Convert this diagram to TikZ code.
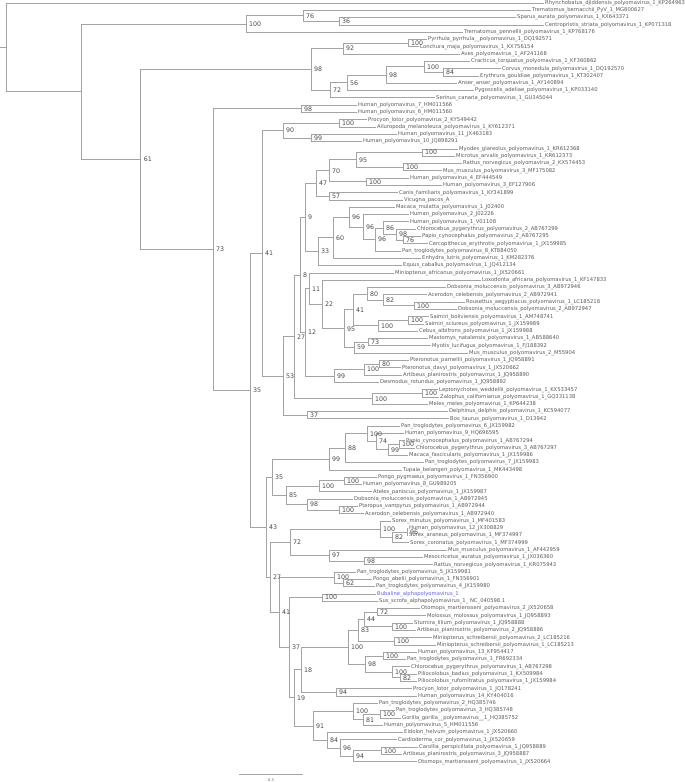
\documentclass[tikz,border=0pt]{standalone}
\usepackage{fontspec}
\setmainfont{DejaVu Sans}
\usetikzlibrary{calc}
\definecolor{brc}{HTML}{A4A4A4}
\definecolor{txc}{HTML}{5A5A5A}
\definecolor{bsc}{HTML}{4A4A4A}
\definecolor{bub}{HTML}{5F5FF5}
\tikzset{
 br/.style={draw=brc, line width=0.75pt},
 leaf/.style={anchor=west, inner sep=1pt, font=\fontsize{5.25}{6}\selectfont, text=txc},
 bsl/.style={anchor=west, inner sep=0pt, xshift=3pt, font=\fontsize{6.3}{7}\selectfont, text=bsc},
 sbl/.style={inner sep=0pt, font=\fontsize{3.6}{4}\selectfont, text=txc},
}
\newcommand\tleaf[5][]{\node[leaf,#1] (#2) at ({#4-1},{3+(#3-1)*7.295}) {#5};}
\newcommand\tjoin[4]{%
 \path let \p1=(#3), \p2=(#4) in coordinate (#1) at ({#2pt},{0.5*(\y1+\y2)});
 \draw[br] (#1) |- (#3);
 \draw[br] (#1) |- (#4);}
\newcommand\tclade[5]{%
 \tjoin{#1}{#2}{#3}{#4}%
 \node[bsl] (#1-l) at (#1) {#5};}
\begin{document}
\begin{tikzpicture}[x=1pt,y=-1pt]
\useasboundingbox (0,0) rectangle (685,782);
\tleaf{L1}{1}{545}{Rhynchobatus\_djiddensis\_polyomavirus\_1\_KP264963}
\tleaf{L2}{2}{532}{Trematomus\_bernacchii\_PyV\_1\_MG800627}
\tleaf{L3}{3}{517}{Sparus\_aurata\_polyomavirus\_1\_KX643371}
\tleaf{L4}{4}{545}{Centropristis\_striata\_polyomavirus\_1\_KP071318}
\tleaf{L5}{5}{464}{Trematomus\_pennellii\_polyomavirus\_1\_KP768176}
\tleaf{L6}{6}{428}{Pyrrhula\_pyrrhula\_\_polyomavirus\_1\_DQ192571}
\tleaf{L7}{7}{420}{Lonchura\_maja\_polyomavirus\_1\_KX756154}
\tleaf{L8}{8}{461}{Aves\_polyomavirus\_1\_AF241168}
\tleaf{L9}{9}{471}{Cracticus\_torquatus\_polyomavirus\_1\_KF360862}
\tleaf{L10}{10}{502}{Corvus\_monedula\_polyomavirus\_1\_DQ192570}
\tleaf{L11}{11}{480}{Erythrura\_gouldiae\_polyomavirus\_1\_KT302407}
\tleaf{L12}{12}{458}{Anser\_anser\_polyomavirus\_1\_AY140894}
\tleaf{L13}{13}{475}{Pygoscelis\_adeliae\_polyomavirus\_1\_KP033140}
\tleaf{L14}{14}{436}{Serinus\_canaria\_polyomavirus\_1\_GU345044}
\tleaf{L15}{15}{358}{Human\_polyomavirus\_7\_HM011566}
\tleaf{L16}{16}{358}{Human\_polyomavirus\_6\_HM011560}
\tleaf{L17}{17}{368}{Procyon\_lotor\_polyomavirus\_2\_KY549442}
\tleaf{L18}{18}{377}{Ailuropoda\_melanoleuca\_polyomavirus\_1\_KY612371}
\tleaf{L19}{19}{398}{Human\_polyomavirus\_11\_JX463183}
\tleaf{L20}{20}{363}{Human\_polyomavirus\_10\_JQ898291}
\tleaf{L21}{21}{459}{Myodes\_glareolus\_polyomavirus\_1\_KR612368}
\tleaf{L22}{22}{456}{Microtus\_arvalis\_polyomavirus\_1\_KR612373}
\tleaf{L23}{23}{463}{Rattus\_norvegicus\_polyomavirus\_2\_KX574453}
\tleaf{L24}{24}{443}{Mus\_musculus\_polyomavirus\_3\_MF175082}
\tleaf{L25}{25}{410}{Human\_polyomavirus\_4\_EF444549}
\tleaf{L26}{26}{443}{Human\_polyomavirus\_3\_EF127906}
\tleaf{L27}{27}{399}{Canis\_familiaris\_polyomavirus\_1\_KY341899}
\tleaf{L28}{28}{404}{Vicugna\_pacos\_A}
\tleaf{L29}{29}{396}{Macaca\_mulatta\_polyomavirus\_1\_J02400}
\tleaf{L30}{30}{410}{Human\_polyomavirus\_2\_J02226}
\tleaf{L31}{31}{410}{Human\_polyomavirus\_1\_V01108}
\tleaf{L32}{32}{417}{Chlorocebus\_pygerythrus\_polyomavirus\_2\_AB767299}
\tleaf{L33}{33}{422}{Papio\_cynocephalus\_polyomavirus\_2\_AB767295}
\tleaf{L34}{34}{429}{Cercopithecus\_erythrotis\_polyomavirus\_1\_JX159985}
\tleaf{L35}{35}{402}{Pan\_troglodytes\_polyomavirus\_8\_KT884050}
\tleaf{L36}{36}{422}{Enhydra\_lutris\_polyomavirus\_1\_KM282376}
\tleaf{L37}{37}{403}{Equus\_caballus\_polyomavirus\_1\_JQ412134}
\tleaf{L38}{38}{395}{Miniopterus\_africanus\_polyomavirus\_1\_JX520661}
\tleaf{L39}{39}{482}{Loxodonta\_africana\_polyomavirus\_1\_KF147833}
\tleaf{L40}{40}{447}{Dobsonia\_moluccensis\_polyomavirus\_3\_AB972946}
\tleaf{L41}{41}{428}{Acerodon\_celebensis\_polyomavirus\_2\_AB972941}
\tleaf{L42}{42}{466}{Rousettus\_aegyptiacus\_polyomavirus\_1\_LC185218}
\tleaf{L43}{43}{458}{Dobsonia\_moluccensis\_polyomavirus\_2\_AB972947}
\tleaf{L44}{44}{430}{Saimiri\_boliviensis\_polyomavirus\_1\_AM748741}
\tleaf{L45}{45}{425}{Saimiri\_sciureus\_polyomavirus\_1\_JX159989}
\tleaf{L46}{46}{419}{Cebus\_albifrons\_polyomavirus\_1\_JX159988}
\tleaf{L47}{47}{429}{Mastomys\_natalensis\_polyomavirus\_1\_AB588640}
\tleaf{L48}{48}{432}{Myotis\_lucifugus\_polyomavirus\_1\_FJ188392}
\tleaf{L49}{49}{469}{Mus\_musculus\_polyomavirus\_2\_M55904}
\tleaf{L50}{50}{410}{Pteronotus\_parnellii\_polyomavirus\_1\_JQ958891}
\tleaf{L51}{51}{402}{Pteronotus\_davyi\_polyomavirus\_1\_JX520662}
\tleaf{L52}{52}{403}{Artibeus\_planirostris\_polyomavirus\_1\_JQ958890}
\tleaf{L53}{53}{380}{Desmodus\_rotundus\_polyomavirus\_1\_JQ958892}
\tleaf{L54}{54}{439}{Leptonychotes\_weddellii\_polyomavirus\_1\_KX533457}
\tleaf{L55}{55}{440}{Zalophus\_californianus\_polyomavirus\_1\_GQ331138}
\tleaf{L56}{56}{429}{Meles\_meles\_polyomavirus\_1\_KP644238}
\tleaf{L57}{57}{449}{Delphinus\_delphis\_polyomavirus\_1\_KC594077}
\tleaf{L58}{58}{450}{Bos\_taurus\_polyomavirus\_1\_D13942}
\tleaf{L59}{59}{401}{Pan\_troglodytes\_polyomavirus\_6\_JX159982}
\tleaf{L60}{60}{405}{Human\_polyomavirus\_9\_HQ696595}
\tleaf{L61}{61}{406}{Papio\_cynocephalus\_polyomavirus\_1\_AB767294}
\tleaf{L62}{62}{416}{Chlorocebus\_pygerythrus\_polyomavirus\_3\_AB767297}
\tleaf{L63}{63}{409}{Macaca\_fascicularis\_polyomavirus\_1\_JX159986}
\tleaf{L64}{64}{425}{Pan\_troglodytes\_polyomavirus\_7\_JX159983}
\tleaf{L65}{65}{403}{Tupaia\_belangeri\_polyomavirus\_1\_MK443498}
\tleaf{L66}{66}{378}{Pongo\_pygmaeus\_polyomavirus\_1\_FN356900}
\tleaf{L67}{67}{363}{Human\_polyomavirus\_8\_GU989205}
\tleaf{L68}{68}{373}{Ateles\_paniscus\_polyomavirus\_1\_JX159987}
\tleaf{L69}{69}{354}{Dobsonia\_moluccensis\_polyomavirus\_1\_AB972945}
\tleaf{L70}{70}{359}{Pteropus\_vampyrus\_polyomavirus\_1\_AB972944}
\tleaf{L71}{71}{365}{Acerodon\_celebensis\_polyomavirus\_1\_AB972940}
\tleaf{L72}{72}{392}{Sorex\_minutus\_polyomavirus\_1\_MF401583}
\tleaf{L73}{73}{409}{Human\_polyomavirus\_12\_JX308829}
\tleaf{L74}{74}{409}{Sorex\_araneus\_polyomavirus\_1\_MF374997}
\tleaf{L75}{75}{410}{Sorex\_coronatus\_polyomavirus\_1\_MF374999}
\tleaf{L76}{76}{448}{Mus\_musculus\_polyomavirus\_1\_AF442959}
\tleaf{L77}{77}{424}{Mesocricetus\_auratus\_polyomavirus\_1\_JX036360}
\tleaf{L78}{78}{434}{Rattus\_norvegicus\_polyomavirus\_1\_KR075943}
\tleaf{L79}{79}{357}{Pan\_troglodytes\_polyomavirus\_5\_JX159981}
\tleaf{L80}{80}{373}{Pongo\_abelii\_polyomavirus\_1\_FN356901}
\tleaf{L81}{81}{376}{Pan\_troglodytes\_polyomavirus\_4\_JX159980}
\tleaf[text=bub]{L82}{82}{377}{Bubaline\_alphapolyomavirus\_1}
\tleaf{L83}{83}{379}{Sus\_scrofa\_alphapolyomavirus\_1\_ NC\_040598.1}
\tleaf{L84}{84}{421}{Otomops\_martiensseni\_polyomavirus\_2\_JX520658}
\tleaf{L85}{85}{427}{Molossus\_molossus\_polyomavirus\_1\_JQ958893}
\tleaf{L86}{86}{414}{Sturnira\_lilium\_polyomavirus\_1\_JQ958888}
\tleaf{L87}{87}{417}{Artibeus\_planirostris\_polyomavirus\_2\_JQ958886}
\tleaf{L88}{88}{433}{Miniopterus\_schreibersii\_polyomavirus\_2\_LC185216}
\tleaf{L89}{89}{437}{Miniopterus\_schreibersii\_polyomavirus\_1\_LC185213}
\tleaf{L90}{90}{418}{Human\_polyomavirus\_13\_KF954417}
\tleaf{L91}{91}{407}{Pan\_troglodytes\_polyomavirus\_1\_FR692334}
\tleaf{L92}{92}{411}{Chlorocebus\_pygerythrus\_polyomavirus\_1\_AB767298}
\tleaf{L93}{93}{418}{Piliocolobus\_badius\_polyomavirus\_1\_KX509984}
\tleaf{L94}{94}{418}{Piliocolobus\_rufomitratus\_polyomavirus\_1\_JX159984}
\tleaf{L95}{95}{413}{Procyon\_lotor\_polyomavirus\_1\_JQ178241}
\tleaf{L96}{96}{418}{Human\_polyomavirus\_14\_KY404016}
\tleaf{L97}{97}{379}{Pan\_troglodytes\_polyomavirus\_2\_HQ385746}
\tleaf{L98}{98}{396}{Pan\_troglodytes\_polyomavirus\_3\_HQ385748}
\tleaf{L99}{99}{402}{Gorilla\_gorilla\_\_polyomavirus\_\_1\_HQ385752}
\tleaf{L100}{100}{384}{Human\_polyomavirus\_5\_HM011556}
\tleaf{L101}{101}{404}{Eidolon\_helvum\_polyomavirus\_1\_JX520660}
\tleaf{L102}{102}{398}{Cardioderma\_cor\_polyomavirus\_1\_JX520659}
\tleaf{L103}{103}{419}{Carollia\_perspicillata\_polyomavirus\_1\_JQ958889}
\tleaf{L104}{104}{403}{Artibeus\_planirostris\_polyomavirus\_3\_JQ958887}
\tleaf{L105}{105}{418}{Otomops\_martiensseni\_polyomavirus\_1\_JX520664}
% internal nodes
\tclade{n36}{339}{L3}{L4}{36}
\tclade{n76}{303}{L2}{n36}{76}
\tclade{n100a}{246}{n76}{L5}{100}
\tclade{n100p}{408}{L6}{L7}{100}
\tclade{n92}{343}{n100p}{L8}{92}
\tclade{n84}{443}{L10}{L11}{84}
\tclade{n100c}{424}{L9}{n84}{100}
\tclade{n98c}{386}{n100c}{L12}{98}
\tclade{n56}{347}{n98c}{L13}{56}
\tclade{n72a}{330}{n56}{L14}{72}
\tclade{n98b}{311}{n92}{n72a}{98}
\tclade{n98h}{301}{L15}{L16}{98}
\tclade{n100pr}{339}{L17}{L18}{100}
\tclade{n99a}{311}{L19}{L20}{99}
\tclade{n90}{283}{n100pr}{n99a}{90}
\tclade{n100mm}{422}{L21}{L22}{100}
\tclade{n100rm}{403}{L23}{L24}{100}
\tclade{n95a}{356}{n100mm}{n100rm}{95}
\tclade{n100hp}{366}{L25}{L26}{100}
\tclade{n70}{329}{n95a}{n100hp}{70}
\tclade{n57}{329}{L27}{L28}{57}
\tclade{n47}{316}{n70}{n57}{47}
\tclade{n76b}{403}{L33}{L34}{76}
\tclade{n98p}{396}{L32}{n76b}{98}
\tclade{n86}{383}{L31}{n98p}{86}
\tclade{n96c}{375}{n86}{L35}{96}
\tclade{n96b}{363}{L30}{n96c}{96}
\tclade{n96a}{349}{L29}{n96b}{96}
\tclade{n60}{333}{n96a}{L36}{60}
\tclade{n33}{318}{n60}{L37}{33}
\tclade{n9}{305}{n47}{n33}{9}
\tclade{n100rd}{414}{L42}{L43}{100}
\tclade{n82}{383}{L41}{n100rd}{82}
\tclade{n80b}{367}{L40}{n82}{80}
\tclade{n100s}{408}{L44}{L45}{100}
\tclade{n100sc}{378}{n100s}{L46}{100}
\tclade{n41b}{353}{n80b}{n100sc}{41}
\tclade{n73b}{368}{L47}{L48}{73}
\tclade{n59}{354}{n73b}{L49}{59}
\tclade{n95b}{344}{n41b}{n59}{95}
\tclade{n22}{322}{L39}{n95b}{22}
\tclade{n11}{309}{L38}{n22}{11}
\tclade{n80}{379}{L50}{L51}{80}
\tclade{n100pt}{364}{n80}{L52}{100}
\tclade{n99d}{334}{n100pt}{L53}{99}
\tclade{n12}{305}{n11}{n99d}{12}
\tclade{n8}{300}{n9}{n12}{8}
\tclade{n100lep}{422}{L54}{L55}{100}
\tclade{n100lz}{372}{n100lep}{L56}{100}
\tclade{n27}{294}{n8}{n100lz}{27}
\tclade{n37}{307}{L57}{L58}{37}
\tclade{n53}{283}{n27}{n37}{53}
\tclade{n41}{262}{n90}{n53}{41}
\tclade{n100pc}{399}{L61}{L62}{100}
\tclade{n99c}{388}{n100pc}{L63}{99}
\tclade{n74}{376}{L60}{n99c}{74}
\tclade{n100x}{367}{L59}{n74}{100}
\tclade{n88}{345}{n100x}{L64}{88}
\tclade{n99p}{329}{n88}{L65}{99}
\tclade{n100pp}{344}{L66}{L67}{100}
\tclade{n100ppa}{319}{n100pp}{L68}{100}
\tclade{n100pa2}{339}{L70}{L71}{100}
\tclade{n98bat}{307}{L69}{n100pa2}{98}
\tclade{n85}{286}{n100ppa}{n98bat}{85}
\tclade{n35b}{272}{n99p}{n85}{35}
\tclade{n96s}{407}{L73}{L74}{96}
\tclade{n82s}{392}{n96s}{L75}{82}
\tclade{n100s3}{380}{L72}{n82s}{100}
\tclade{n98m}{364}{L77}{L78}{98}
\tclade{n97}{329}{L76}{n98m}{97}
\tclade{n72s}{290}{n100s3}{n97}{72}
\tclade{n62}{343}{L80}{L81}{62}
\tclade{n100pan}{334}{L79}{n62}{100}
\tclade{n100bs}{322}{L82}{L83}{100}
\tclade{n72b}{377}{L84}{L85}{72}
\tclade{n100sa}{392}{L86}{L87}{100}
\tclade{n44}{364}{n72b}{n100sa}{44}
\tclade{n100mi}{394}{L88}{L89}{100}
\tclade{n83}{358}{n44}{n100mi}{83}
\tclade{n100h13}{383}{L90}{L91}{100}
\tclade{n82p}{400}{L93}{L94}{82}
\tclade{n100cp}{392}{L92}{n82p}{100}
\tclade{n98hh}{365}{n100h13}{n100cp}{98}
\tclade{n100big}{348}{n83}{n98hh}{100}
\tclade{n94p}{336}{L95}{L96}{94}
\tclade{n18}{301}{n100big}{n94p}{18}
\tclade{n100pg}{380}{L98}{L99}{100}
\tclade{n81}{363}{n100pg}{L100}{81}
\tclade{n100p2}{353}{L97}{n81}{100}
\tclade{n100ca}{381}{L103}{L104}{100}
\tclade{n94b}{353}{n100ca}{L105}{94}
\tclade{n96b2}{340}{L102}{n94b}{96}
\tclade{n84b}{327}{L101}{n96b2}{84}
\tclade{n91}{313}{n100p2}{n84b}{91}
\tclade{n19}{294}{n18}{n91}{19}
\tclade{n37c}{289}{n100bs}{n19}{37}
\tclade{n41c}{279}{n100pan}{n37c}{41}
\tclade{n27b}{270}{n72s}{n41c}{27}
\tclade{n43}{266}{n35b}{n27b}{43}
\tclade{n35}{250}{n41}{n43}{35}
\tclade{n73}{213}{n98h}{n35}{73}
\tclade{n61}{140.7}{n98b}{n73}{61}
\tjoin{nA}{81}{n100a}{n61}
\tjoin{root}{6}{L1}{nA}
\path let \p1=(root) in coordinate (stub) at (0pt,\y1);
\draw[br] (stub) -- (root);
% scale bar
\coordinate (sb1) at (239,774);
\coordinate (sb2) at (303,774);
\draw[br] (sb1) -- (sb2);
\node[sbl] (sbt) at (271,780) {0.3};
\end{tikzpicture}
\end{document}
